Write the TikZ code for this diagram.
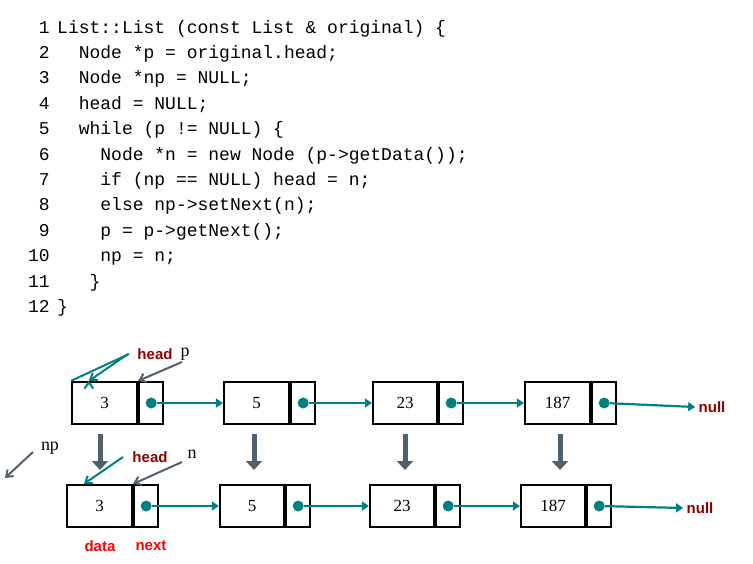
\documentclass[tikz,border=0pt]{standalone}
\usepackage{fontspec}
\setmainfont{Liberation Serif}
\newfontfamily\codefont{Liberation Mono}
\newfontfamily\labfont{Liberation Sans}
\usetikzlibrary{arrows.meta}
\definecolor{teal1}{RGB}{0,128,128}
\definecolor{darkred1}{RGB}{140,0,0}
\definecolor{grayarr}{RGB}{80,96,110}
\begin{document}
\begin{tikzpicture}[x=1pt,y=-1pt,
  code/.style={anchor=base west,inner sep=0pt,font=\codefont\fontsize{18}{18}\selectfont},
  data/.style={draw,line width=2.2pt,minimum height=42pt,inner sep=0pt,font=\fontsize{17}{17}\selectfont},
  dot/.style={circle,fill=teal1,minimum size=11pt,inner sep=0pt},
  link/.style={teal1,line width=2.2pt,-{Triangle[length=7pt,width=9pt]}},
  ptr/.style={line width=2pt,-{Straight Barb[length=6pt,width=9pt]}},
  down/.style={grayarr,line width=5pt,-{Triangle[length=9pt,width=16pt]}},
  hd/.style={darkred1,font=\labfont\bfseries\fontsize{15}{15}\selectfont},
  var/.style={font=\fontsize{18}{18}\selectfont,inner sep=0pt}]
\useasboundingbox (0,0) rectangle (753,563);
% code listing
\foreach \n/\t [count=\i] in {
 1/{List::List (const List \& original) \{},
 2/{\ \ Node *p = original.head;},
 3/{\ \ Node *np = NULL;},
 4/{\ \ head = NULL;},
 5/{\ \ while (p != NULL) \{},
 6/{\ \ \ \ Node *n = new Node (p->getData());},
 7/{\ \ \ \ if (np == NULL) head = n;},
 8/{\ \ \ \ else np->setNext(n);},
 9/{\ \ \ \ p = p->getNext();},
 10/{\ \ \ \ np = n;},
 11/{\ \ \ \}},
 12/{\}}} {
  \node[code,anchor=base east] (ln\i) at (50,{33+25.4*(\i-1)}) {\n};
  \node[code] (cl\i) at (57,{33+25.4*(\i-1)}) {\t};
}
% top row
\foreach \k/\x/\d/\v in {1/72/137/3,2/224/289/5,3/373/437/23,4/525/590/187} {
  \node[data,minimum width=\d-\x pt] (ta\k) at ({(\x+\d)/2},403) {\v};
  \node[data,minimum width=24pt,anchor=west] (tn\k) at (ta\k.east) {};
  \node[dot] (td\k) at (tn\k.center) {};
}
% bottom row
\foreach \k/\x/\d/\v in {1/67/132/3,2/220/284/5,3/370/434/23,4/521/585/187} {
  \node[data,minimum width=\d-\x pt] (ba\k) at ({(\x+\d)/2},506) {\v};
  \node[data,minimum width=24pt,anchor=west] (bn\k) at (ba\k.east) {};
  \node[dot] (bd\k) at (bn\k.center) {};
}
\foreach \a/\b in {1/2,2/3,3/4} {
  \draw[link] (td\a) -- (ta\b.west);
  \draw[link] (bd\a) -- (ba\b.west);
}
\node[hd] (tnull) at (712,407) {null};
\node[hd] (bnull) at (700,508) {null};
\draw[link] (td4) -- (tnull.west);
\draw[link] (bd4) -- (bnull.west);
% copy arrows
\foreach \k/\x in {1/100,2/254,3/405,4/560}
  \draw[down] (\x,434) -- (\x,470);
% pointers
\node[hd] (h1) at (155,354) {head};
\node[var] (p) at (185,354) {p};
\node[hd] (h2) at (150,457) {head};
\node[var] (n) at (192,454) {n};
\node[var] (np) at (50,448) {np};
\coordinate (npend) at (5,478);
\node[font=\labfont\bfseries\fontsize{15}{15}\selectfont,red] (dl) at (100,546) {data};
\node[font=\labfont\bfseries\fontsize{15}{15}\selectfont,red] (nl) at (151,546) {next};
\draw[ptr,teal1] (h1.west) ++(-5,0) -- (ta1.north west) ++(18,0) coordinate (x1);
\draw[ptr,teal1] (128,354) -- ([xshift=18pt]ta1.north west);
\draw[ptr,grayarr] (182,362) -- (tn1.north west);
\draw[ptr,teal1] (123,457) -- ([xshift=18pt]ba1.north west);
\draw[ptr,grayarr] (182,462) -- (bn1.north west);
\draw[ptr,grayarr] (33,452) -- (npend);
\end{tikzpicture}
\end{document}
